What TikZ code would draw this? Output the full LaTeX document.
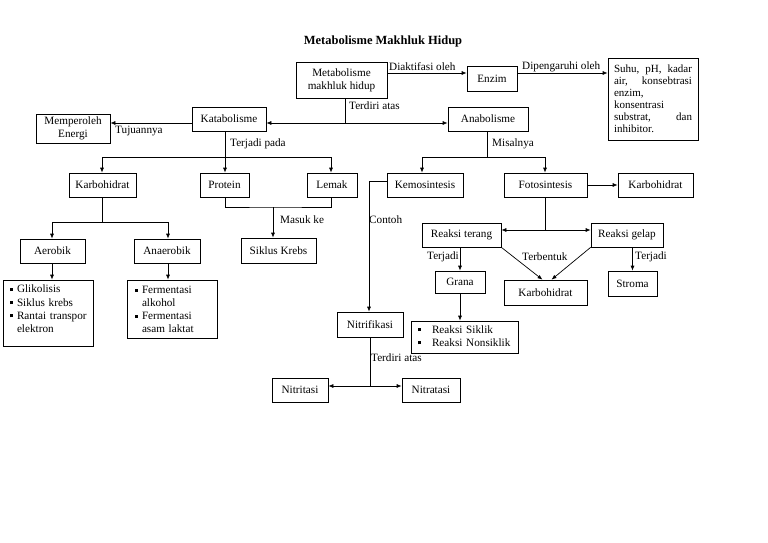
\documentclass[tikz,border=0pt]{standalone}
\usepackage{fontspec}
\setmainfont{Liberation Serif}
\usetikzlibrary{arrows.meta,calc}
\newcommand{\lbl}{\fontsize{11.2}{13.2}\selectfont}
\newcommand{\blt}{\rule[1.8pt]{3pt}{3pt}}
\newcommand{\jl}[1]{\makebox[78pt][l]{#1}}
\tikzset{
  box/.style={draw, line width=0.7pt, inner sep=0pt, align=center, font=\lbl},
  lab/.style={inner sep=0pt, anchor=west, font=\lbl},
  conn/.style={line width=0.7pt},
  arr/.style={conn, -{Latex[length=5pt,width=4pt]}},
}
\begin{document}
\begin{tikzpicture}[x=1pt,y=-1pt]
\useasboundingbox (0,0) rectangle (768,543);
\fill[white] (0,0) rectangle (768,543);

% title
\node[font=\bfseries\fontsize{12.5}{14}\selectfont] (title) at (383,41) {Metabolisme Makhluk Hidup};

% boxes
\node[box, minimum width=91pt, minimum height=36pt] (meta) at (341.5,80) {Metabolisme\\makhluk hidup};
\node[box, minimum width=50pt, minimum height=25pt] (enzim) at (492,78.5) {Enzim};
\node[box, minimum width=90pt, minimum height=82pt, text width=78pt, inner xsep=6pt, align=left, font=\fontsize{11}{11.9}\selectfont] (sulu) at (653,99)
  {\jl{Suhu,\hfill pH,\hfill kadar}\\\jl{air,\hfill konsebtrasi}\\enzim,\\konsentrasi\\\jl{substrat,\hfill dan}\\inhibitor.};
\node[box, minimum width=74pt, minimum height=24pt] (kata) at (229,119) {Katabolisme};
\node[box, minimum width=74pt, minimum height=29pt] (mem) at (73,128.5) {Memperoleh\\Energi};
\node[box, minimum width=80pt, minimum height=24pt] (ana) at (488,119) {Anabolisme};

\node[box, minimum width=67pt, minimum height=24pt] (karb1) at (102.5,185) {Karbohidrat};
\node[box, minimum width=49pt, minimum height=24pt] (prot) at (224.5,185) {Protein};
\node[box, minimum width=50pt, minimum height=24pt] (lemak) at (332,185) {Lemak};
\node[box, minimum width=75pt, minimum height=25pt] (krebs) at (278.5,250.5) {Siklus Krebs};
\node[box, minimum width=65pt, minimum height=24pt] (aer) at (52.5,251) {Aerobik};
\node[box, minimum width=66pt, minimum height=24pt] (anaer) at (167,251) {Anaerobik};
\node[box, minimum width=90pt, minimum height=66pt, text width=76pt, inner xsep=7pt, align=left] (list1) at (48,313)
  {\raisebox{3pt}[\height][\depth]{\begin{tabular}{@{}l@{\hspace{4pt}}l@{}}\blt & Glikolisis\\ \blt & Siklus krebs\\ \blt & Rantai transpor\\ & elektron\end{tabular}}};
\node[box, minimum width=90pt, minimum height=58pt, text width=74pt, inner xsep=8pt, align=left] (list2) at (172,309)
  {\raisebox{-1.5pt}[\height][\depth]{\begin{tabular}{@{}l@{\hspace{4pt}}l@{}}\blt & Fermentasi\\ & alkohol\\ \blt & Fermentasi\\ & asam laktat\end{tabular}}};

\node[box, minimum width=76pt, minimum height=24pt] (kemo) at (425,185) {Kemosintesis};
\node[box, minimum width=83pt, minimum height=24pt] (foto) at (545.5,185) {Fotosintesis};
\node[box, minimum width=75pt, minimum height=24pt] (karb2) at (655.5,185) {Karbohidrat};
\node[box, minimum width=79pt, minimum height=24pt] (terang) at (461.5,235) {Reaksi terang};
\node[box, minimum width=72pt, minimum height=24pt] (gelap) at (627,235) {Reaksi gelap};
\node[box, minimum width=50pt, minimum height=22pt] (grana) at (460,282) {Grana};
\node[box, minimum width=83pt, minimum height=25pt] (karb3) at (545.5,292.5) {Karbohidrat};
\node[box, minimum width=49pt, minimum height=25pt] (stroma) at (632.5,283.5) {Stroma};
\node[box, minimum width=107pt, minimum height=32pt, text width=93pt, inner xsep=7pt, align=left] (list3) at (464.5,337)
  {\begin{tabular}{@{}l@{\hspace{11pt}}l@{}}\blt & Reaksi Siklik\\ \blt & Reaksi Nonsiklik\end{tabular}};
\node[box, minimum width=66pt, minimum height=25pt] (nitri) at (370,324.5) {Nitrifikasi};
\node[box, minimum width=56pt, minimum height=24pt] (nitrit) at (300,390) {Nitritasi};
\node[box, minimum width=58pt, minimum height=24pt] (nitra) at (431,390) {Nitratasi};

% junction coordinates
\coordinate (h73) at (0,73);
\coordinate (jT) at (345,123);
\coordinate (jK) at (225,157);
\coordinate (jKL) at (102,157);
\coordinate (jKR) at (331,157);
\coordinate (jA) at (487,157);
\coordinate (jAL) at (422,157);
\coordinate (jAR) at (545,157);
\coordinate (jPL) at (273,207);
\coordinate (jC) at (102,222);
\coordinate (jCL) at (52,222);
\coordinate (jCR) at (168,222);
\coordinate (jM) at (369,181);
\coordinate (jF) at (545,230);
\coordinate (jN) at (370,386);

% connectors
\draw[arr] (meta.east |- h73) -- (enzim.west |- h73);
\draw[arr] (enzim.east |- h73) -- (sulu.west |- h73);
\draw[conn] (meta.south -| jT) -- (jT);
\draw[arr] (jT) -- (kata.east |- jT);
\draw[arr] (jT) -- (ana.west |- jT);
\draw[arr] (kata.west |- jT) -- (mem.east |- jT);

\draw[conn] (kata.south -| jK) -- (jK);
\draw[conn] (jKL) -- (jKR);
\draw[arr] (jKL) -- (karb1.north -| jKL);
\draw[arr] (jK) -- (prot.north -| jK);
\draw[arr] (jKR) -- (lemak.north -| jKR);

\draw[conn] (ana.south -| jA) -- (jA);
\draw[conn] (jAL) -- (jAR);
\draw[arr] (jAL) -- (kemo.north -| jAL);
\draw[arr] (jAR) -- (foto.north -| jAR);

\draw[conn] (prot.south -| jK) |- (jPL) -| (lemak.south -| jKR);
\draw[arr] (jPL) -- (krebs.north -| jPL);

\draw[conn] (karb1.south -| jC) -- (jC);
\draw[conn] (jCL) -- (jCR);
\draw[arr] (jCL) -- (aer.north -| jCL);
\draw[arr] (jCR) -- (anaer.north -| jCR);
\draw[arr] (aer.south -| jCL) -- (list1.north -| jCL);
\draw[arr] (anaer.south -| jCR) -- (list2.north -| jCR);

\draw[arr] (foto.east) -- (karb2.west);
\draw[arr] (kemo.west |- jM) -- (jM) -- (nitri.north -| jM);

\draw[conn] (foto.south -| jF) -- (jF);
\draw[arr] (jF) -- (terang.east |- jF);
\draw[arr] (jF) -- (gelap.west |- jF);
\draw[arr] (terang.south -| grana.north) -- (grana.north);
\draw[arr] (terang.south east) -- ($(karb3.north)+(-3,0)$);
\draw[arr] (gelap.south west) -- ($(karb3.north)+(6,0)$);
\draw[arr] (stroma.north |- gelap.south) -- (stroma.north);
\draw[arr] (grana.south) -- (list3.north -| grana.south);

\draw[conn] (nitri.south) -- (jN);
\draw[arr] (jN) -- (nitrit.east |- jN);
\draw[arr] (jN) -- (nitra.west |- jN);

% labels
\node[lab] (l1) at (389,67) {Diaktifasi oleh};
\node[lab] (l2) at (522,67) {Dipengaruhi oleh};
\node[lab] (l3) at (349,106) {Terdiri atas};
\node[lab] (l4) at (115,131) {Tujuannya};
\node[lab] (l5) at (230,144) {Terjadi pada};
\node[lab] (l6) at (492,144) {Misalnya};
\node[lab] (l7) at (280,220) {Masuk ke};
\node[lab] (l8) at (369,220) {Contoh};
\node[lab] (l9) at (427,257) {Terjadi};
\node[lab] (l10) at (522,257) {Terbentuk};
\node[lab] (l11) at (635,257) {Terjadi};
\node[lab] (l12) at (371,358) {Terdiri atas};
\end{tikzpicture}
\end{document}
